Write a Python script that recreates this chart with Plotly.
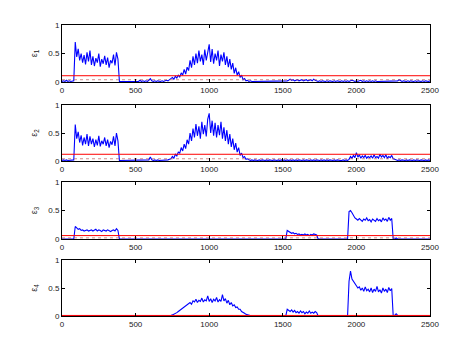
import plotly.graph_objects as go

# sample step of the transcribed series (x = sample index)
STEP = 10

eps1 = [
    0.01,0.02,0.01,0.03,0.01,0.02,0.01,0.02,0.02,0.70,
    0.44,0.58,0.38,0.50,0.34,0.47,0.31,0.52,0.36,0.55,
    0.30,0.45,0.28,0.42,0.34,0.50,0.27,0.40,0.32,0.46,
    0.30,0.43,0.25,0.38,0.33,0.48,0.29,0.52,0.40,0.01,
    0.01,0.02,0.01,0.01,0.02,0.01,0.02,0.01,0.01,0.02,
    0.01,0.02,0.01,0.03,0.01,0.02,0.01,0.02,0.01,0.03,
    0.06,0.02,0.01,0.02,0.01,0.02,0.01,0.01,0.02,0.01,
    0.02,0.03,0.02,0.04,0.06,0.08,0.05,0.10,0.07,0.12,
    0.09,0.16,0.12,0.22,0.14,0.26,0.20,0.38,0.25,0.45,
    0.30,0.50,0.33,0.55,0.36,0.48,0.30,0.57,0.38,0.52,
    0.66,0.35,0.58,0.32,0.50,0.38,0.55,0.28,0.48,0.36,
    0.52,0.30,0.45,0.26,0.40,0.22,0.33,0.15,0.25,0.12,
    0.18,0.08,0.12,0.04,0.06,0.02,0.03,0.01,0.02,0.01,
    0.01,0.02,0.01,0.01,0.02,0.01,0.02,0.01,0.01,0.02,
    0.01,0.02,0.01,0.01,0.02,0.01,0.01,0.02,0.01,0.02,
    0.01,0.02,0.01,0.02,0.03,0.05,0.03,0.04,0.02,0.03,
    0.04,0.02,0.03,0.04,0.02,0.03,0.04,0.02,0.03,0.04,
    0.02,0.05,0.03,0.02,0.01,0.02,0.01,0.02,0.01,0.01,
    0.02,0.01,0.02,0.01,0.01,0.02,0.01,0.02,0.01,0.01,
    0.02,0.01,0.02,0.01,0.02,0.01,0.02,0.03,0.02,0.01,
    0.02,0.01,0.02,0.03,0.01,0.02,0.01,0.02,0.01,0.02,
    0.01,0.02,0.01,0.02,0.01,0.01,0.02,0.01,0.02,0.01,
    0.02,0.01,0.02,0.01,0.02,0.01,0.02,0.01,0.02,0.04,
    0.02,0.01,0.02,0.01,0.01,0.02,0.01,0.02,0.01,0.01,
    0.02,0.01,0.02,0.01,0.01,0.02,0.01,0.02,0.01,0.01,0.02,
]

eps2 = [
    0.01,0.02,0.01,0.02,0.01,0.01,0.02,0.01,0.02,0.65,
    0.40,0.52,0.33,0.46,0.28,0.42,0.30,0.48,0.27,0.44,
    0.30,0.40,0.25,0.38,0.28,0.45,0.26,0.36,0.30,0.42,
    0.27,0.38,0.24,0.35,0.29,0.44,0.27,0.50,0.36,0.01,
    0.01,0.02,0.01,0.01,0.02,0.01,0.02,0.01,0.01,0.02,
    0.01,0.02,0.01,0.02,0.01,0.02,0.01,0.02,0.01,0.02,
    0.07,0.02,0.01,0.02,0.01,0.02,0.01,0.01,0.02,0.01,
    0.02,0.01,0.02,0.03,0.04,0.08,0.05,0.12,0.09,0.16,
    0.14,0.24,0.18,0.30,0.22,0.38,0.30,0.50,0.36,0.58,
    0.42,0.66,0.45,0.62,0.40,0.70,0.48,0.64,0.44,0.75,
    0.85,0.50,0.72,0.45,0.68,0.42,0.64,0.46,0.70,0.40,
    0.60,0.36,0.55,0.30,0.48,0.25,0.40,0.20,0.32,0.16,
    0.24,0.10,0.14,0.06,0.08,0.03,0.04,0.02,0.01,0.02,
    0.01,0.02,0.01,0.01,0.02,0.01,0.02,0.01,0.01,0.02,
    0.01,0.02,0.01,0.01,0.02,0.01,0.01,0.02,0.01,0.02,
    0.01,0.02,0.01,0.02,0.01,0.02,0.01,0.02,0.01,0.02,
    0.01,0.02,0.01,0.01,0.02,0.01,0.02,0.01,0.01,0.02,
    0.01,0.02,0.01,0.02,0.01,0.01,0.02,0.01,0.02,0.01,
    0.02,0.01,0.02,0.01,0.01,0.02,0.01,0.02,0.01,0.01,
    0.01,0.02,0.01,0.02,0.01,0.03,0.08,0.05,0.10,0.06,
    0.15,0.07,0.11,0.05,0.09,0.06,0.10,0.05,0.08,0.06,
    0.09,0.05,0.11,0.06,0.08,0.05,0.12,0.07,0.10,0.06,
    0.11,0.05,0.08,0.06,0.10,0.04,0.03,0.02,0.01,0.02,
    0.01,0.02,0.01,0.01,0.02,0.01,0.02,0.01,0.01,0.02,
    0.01,0.02,0.01,0.01,0.02,0.01,0.01,0.02,0.01,0.02,0.01,
]

eps3 = [
    0.0,0.0,0.0,0.0,0.0,0.0,0.0,0.0,0.0,0.22,
    0.20,0.17,0.18,0.15,0.16,0.14,0.15,0.16,0.14,0.15,
    0.16,0.14,0.15,0.17,0.14,0.16,0.15,0.13,0.16,0.15,
    0.14,0.16,0.15,0.13,0.15,0.16,0.14,0.18,0.15,0.0,
    0.0,0.0,0.0,0.0,0.0,0.0,0.0,0.0,0.0,0.0,
    0.0,0.0,0.0,0.0,0.0,0.0,0.0,0.0,0.0,0.0,
    0.0,0.0,0.0,0.0,0.0,0.0,0.0,0.0,0.0,0.0,
    0.0,0.0,0.0,0.0,0.0,0.0,0.0,0.0,0.0,0.0,
    0.0,0.0,0.0,0.0,0.0,0.0,0.0,0.0,0.0,0.0,
    0.0,0.0,0.0,0.0,0.0,0.0,0.0,0.0,0.0,0.0,
    0.0,0.0,0.0,0.0,0.0,0.0,0.0,0.0,0.0,0.0,
    0.0,0.0,0.0,0.0,0.0,0.0,0.0,0.0,0.0,0.0,
    0.0,0.0,0.0,0.0,0.0,0.0,0.0,0.0,0.0,0.0,
    0.0,0.0,0.0,0.0,0.0,0.0,0.0,0.0,0.0,0.0,
    0.0,0.0,0.0,0.0,0.0,0.0,0.0,0.0,0.0,0.0,
    0.0,0.0,0.0,0.15,0.13,0.12,0.10,0.11,0.09,0.10,
    0.08,0.09,0.07,0.08,0.07,0.09,0.07,0.08,0.06,0.08,
    0.07,0.09,0.08,0.07,0.0,0.0,0.0,0.0,0.0,0.0,
    0.0,0.0,0.0,0.0,0.0,0.0,0.0,0.0,0.0,0.0,
    0.0,0.0,0.0,0.0,0.0,0.48,0.50,0.46,0.41,0.37,
    0.35,0.33,0.36,0.34,0.31,0.35,0.33,0.37,0.32,0.34,
    0.30,0.35,0.33,0.31,0.36,0.32,0.34,0.30,0.37,0.33,
    0.35,0.31,0.38,0.33,0.36,0.0,0.0,0.02,0.0,0.0,
    0.0,0.0,0.0,0.0,0.0,0.0,0.0,0.0,0.0,0.0,
    0.0,0.0,0.0,0.0,0.0,0.0,0.0,0.0,0.0,0.0,0.0,
]

eps4 = [
    0.0,0.0,0.0,0.0,0.0,0.0,0.0,0.0,0.0,0.0,
    0.0,0.0,0.0,0.0,0.0,0.0,0.0,0.0,0.0,0.0,
    0.0,0.0,0.0,0.0,0.0,0.0,0.0,0.0,0.0,0.0,
    0.0,0.0,0.0,0.0,0.0,0.0,0.0,0.0,0.0,0.0,
    0.0,0.0,0.0,0.0,0.0,0.0,0.0,0.0,0.0,0.0,
    0.0,0.0,0.0,0.0,0.0,0.0,0.0,0.0,0.0,0.0,
    0.0,0.0,0.0,0.0,0.0,0.0,0.0,0.0,0.0,0.0,
    0.0,0.0,0.0,0.0,0.01,0.02,0.03,0.05,0.06,0.08,
    0.10,0.12,0.14,0.16,0.18,0.20,0.22,0.24,0.21,0.27,
    0.25,0.30,0.24,0.28,0.26,0.32,0.25,0.29,0.27,0.36,
    0.26,0.31,0.24,0.30,0.27,0.33,0.25,0.29,0.26,0.38,
    0.27,0.31,0.23,0.28,0.20,0.24,0.18,0.20,0.15,0.16,
    0.12,0.12,0.08,0.07,0.05,0.03,0.02,0.01,0.0,0.0,
    0.0,0.0,0.0,0.0,0.0,0.0,0.0,0.0,0.0,0.0,
    0.0,0.0,0.0,0.0,0.0,0.0,0.0,0.0,0.0,0.0,
    0.0,0.0,0.0,0.12,0.10,0.08,0.11,0.07,0.10,0.06,
    0.08,0.05,0.09,0.06,0.08,0.04,0.07,0.05,0.09,0.05,
    0.07,0.05,0.08,0.06,0.0,0.0,0.0,0.0,0.0,0.0,
    0.0,0.0,0.0,0.0,0.0,0.0,0.0,0.0,0.0,0.0,
    0.0,0.0,0.0,0.0,0.0,0.62,0.80,0.66,0.62,0.58,
    0.55,0.50,0.52,0.46,0.50,0.44,0.52,0.45,0.48,0.43,
    0.50,0.42,0.48,0.44,0.53,0.43,0.47,0.41,0.50,0.44,
    0.48,0.42,0.51,0.45,0.49,0.0,0.01,0.04,0.01,0.0,
    0.0,0.0,0.0,0.0,0.0,0.0,0.0,0.0,0.0,0.0,
    0.0,0.0,0.0,0.0,0.0,0.0,0.0,0.0,0.0,0.0,0.0,
]

series = [eps1, eps2, eps3, eps4]
thresholds = [0.11, 0.12, 0.06, 0.01]
lower_levels = [0.04, 0.04, 0.02, 0.0]
y_labels = ["ε<sub>1</sub>", "ε<sub>2</sub>", "ε<sub>3</sub>", "ε<sub>4</sub>"]
x_ticks = [0, 500, 1000, 1500, 2000, 2500]
y_ticks = [0, 0.5, 1]
x_max = 2500

for s in series:
    assert len(s) == 251, len(s)

# page body has an 8px margin, so the figure is 8px smaller than the window
OFF = 8
W, H = 474 - OFF, 356 - OFF
ml, mr, mt, mb = 62 - OFF, 44, 25 - OFF, 40
ph = H - mt - mb
# panel pixel extents in window coords (top, bottom)
panels_px = [(25, 82), (105, 161), (182, 239), (260, 316)]

fig = go.Figure()
FAM = "Liberation Sans, Arial, sans-serif"
font = dict(family=FAM, size=8, color="#222")

for k, s in enumerate(series):
    n = k + 1
    xs = [STEP * i for i in range(len(s))]
    xa = "x" if n == 1 else f"x{n}"
    ya = "y" if n == 1 else f"y{n}"
    fig.add_trace(go.Scatter(x=xs, y=s, mode="lines", xaxis=xa, yaxis=ya,
                             line=dict(color="#0000ff", width=1.1), showlegend=False))
    fig.add_trace(go.Scatter(x=[0, x_max], y=[lower_levels[k]] * 2, mode="lines", xaxis=xa, yaxis=ya,
                             line=dict(color="rgba(190,90,90,0.7)", width=1, dash="dot"), showlegend=False))
    fig.add_trace(go.Scatter(x=[0, x_max], y=[thresholds[k]] * 2, mode="lines", xaxis=xa, yaxis=ya,
                             line=dict(color="#ff0000", width=1), showlegend=False))
    top, bot = panels_px[k]
    top -= OFF
    bot -= OFF
    dom = [(H - mb - bot) / ph, (H - mb - top) / ph]
    axcommon = dict(showline=True, linecolor="#000", linewidth=1, mirror="ticks",
                    ticks="inside", ticklen=3, tickcolor="#000", showgrid=False,
                    zeroline=False, tickfont=font)
    fig.layout[f"xaxis{'' if n == 1 else n}"] = dict(
        axcommon, range=[0, x_max], tickvals=x_ticks, ticktext=[str(v) for v in x_ticks],
        anchor=ya, domain=[0, 1])
    fig.layout[f"yaxis{'' if n == 1 else n}"] = dict(
        axcommon, range=[0, 1], tickvals=y_ticks, ticktext=["0", "0.5", "1"],
        anchor=xa, domain=dom,
        title=dict(text=y_labels[k], font=dict(family=FAM, size=9, color="#222"),
                   standoff=9))

fig.update_layout(width=W, height=H, margin=dict(l=ml, r=mr, t=mt, b=mb),
                  paper_bgcolor="white", plot_bgcolor="white")

fig.write_html("out.html")
